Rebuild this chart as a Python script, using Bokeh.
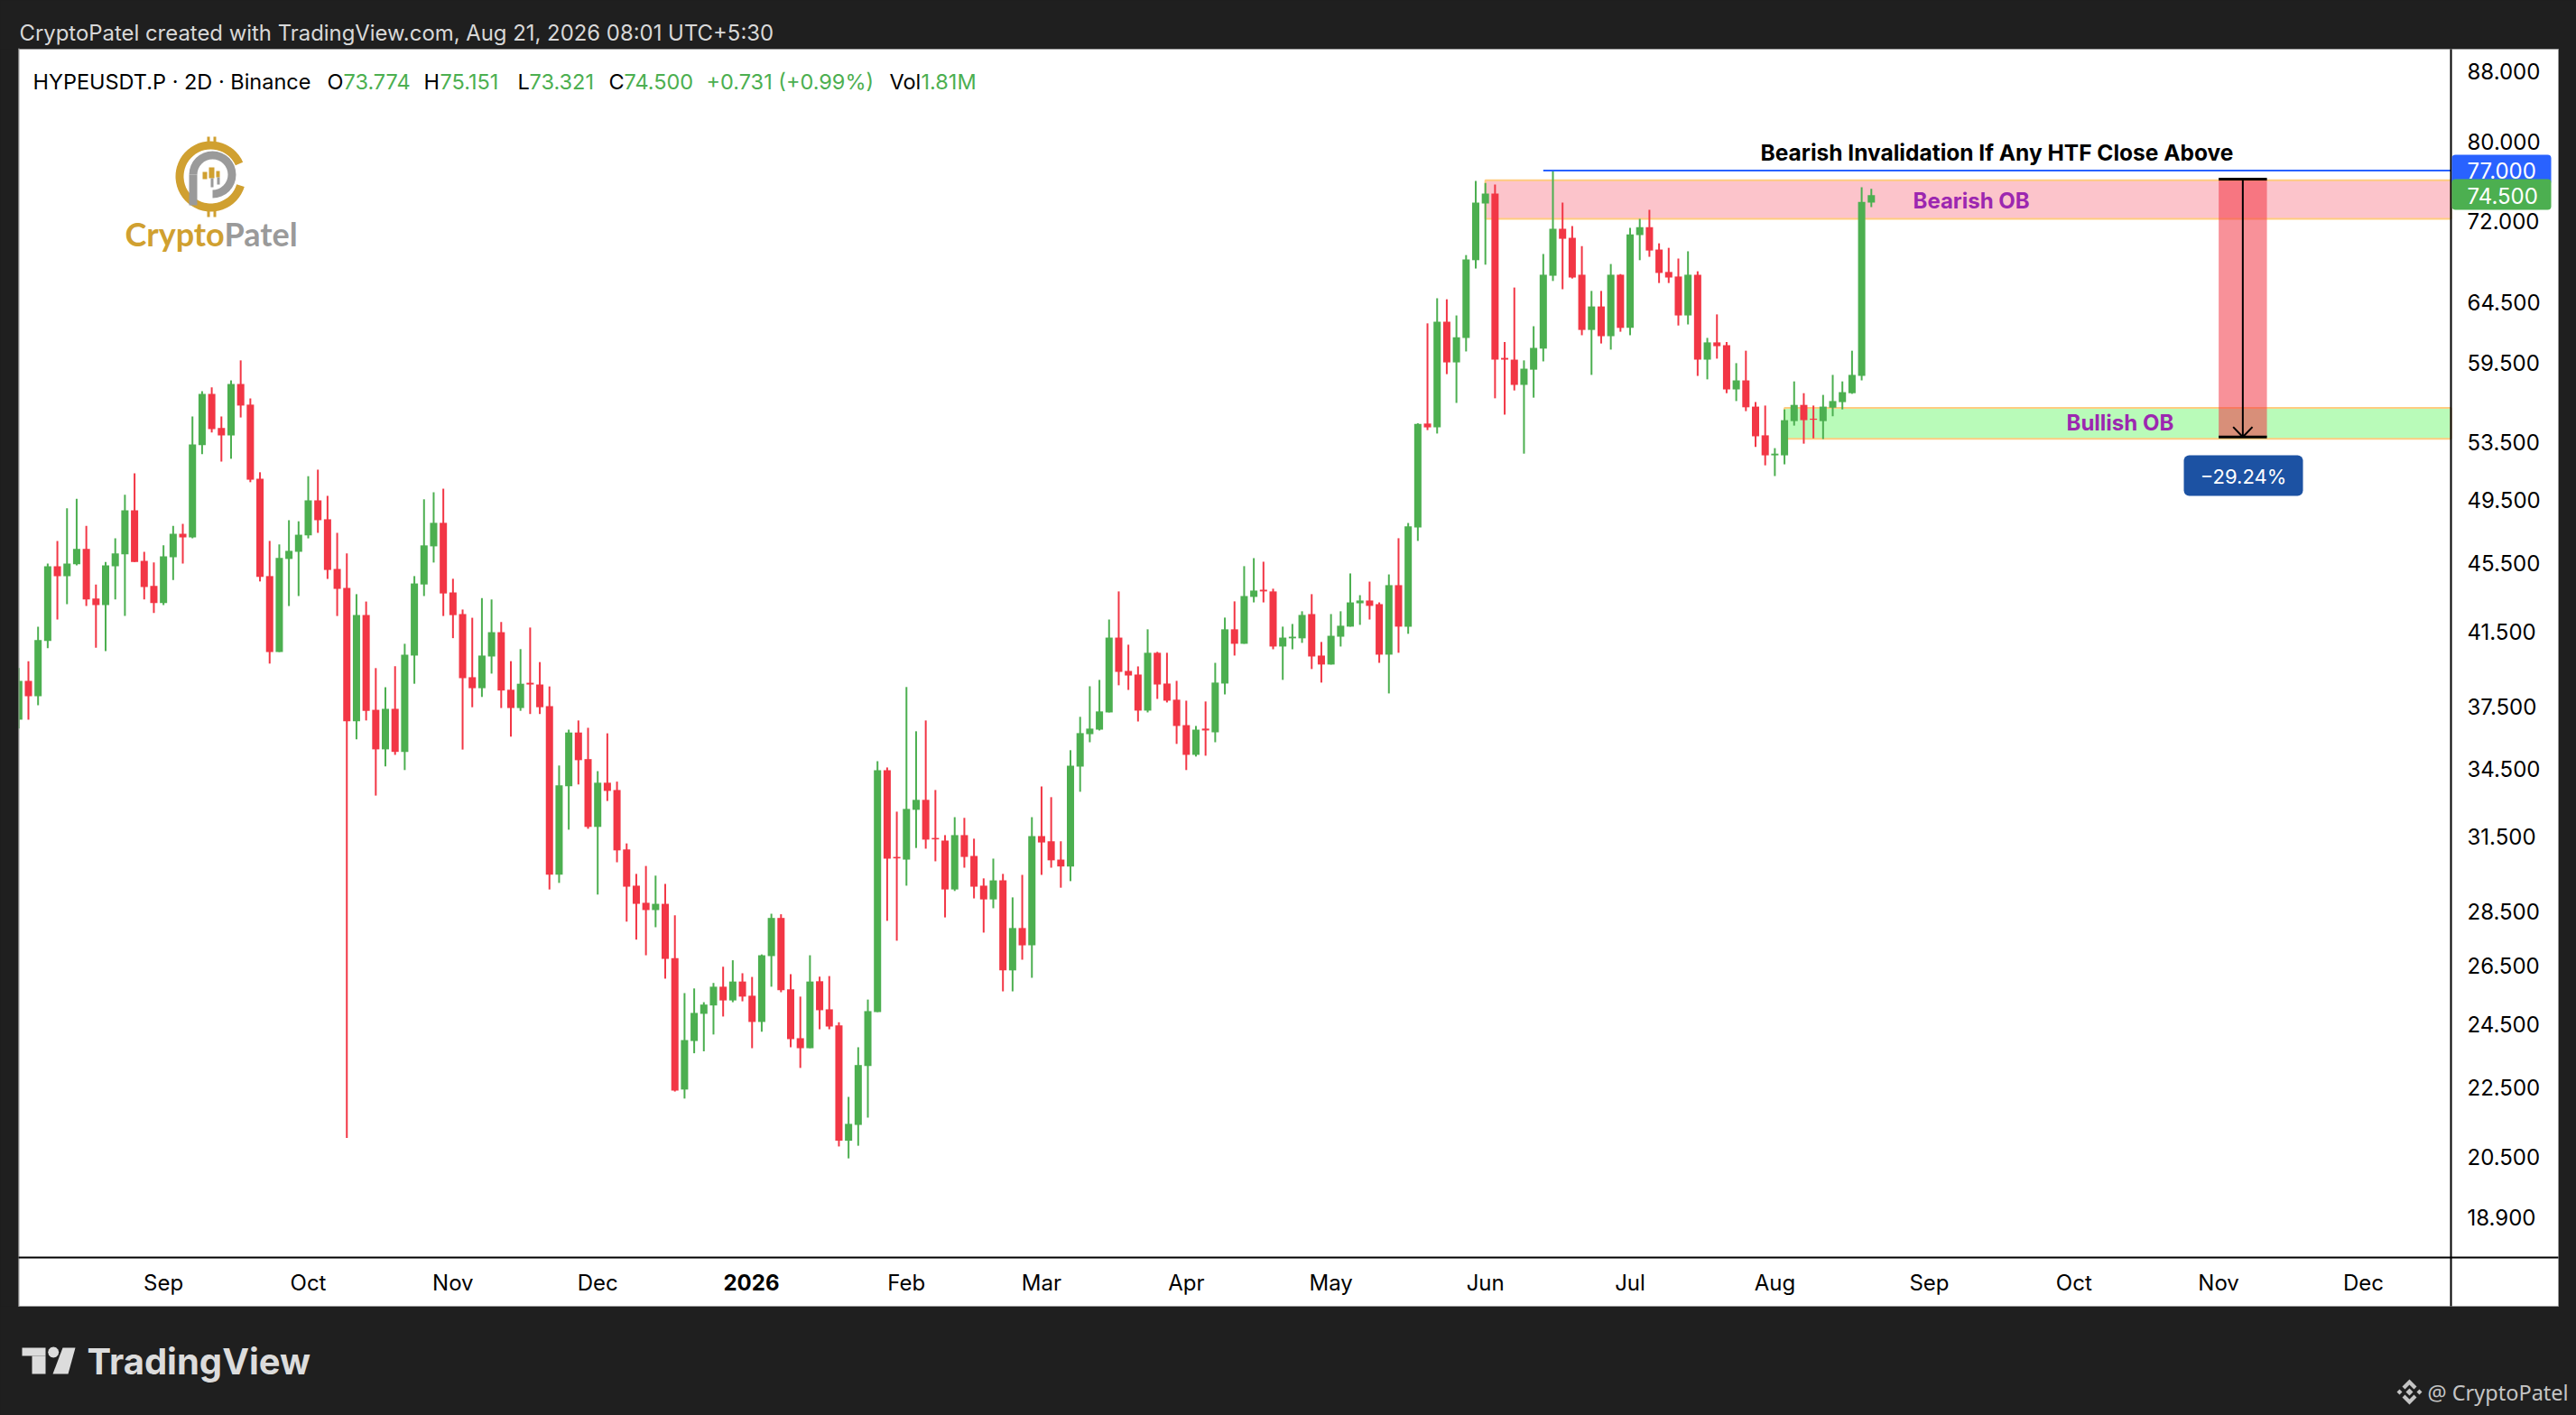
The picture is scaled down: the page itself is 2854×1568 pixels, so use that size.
import math
from bokeh.plotting import figure
from bokeh.models import Label, BoxAnnotation, PolyAnnotation, FixedTicker, PrintfTickFormatter, ColumnDataSource
from bokeh.embed import file_html
from bokeh.resources import INLINE

OPEN = [36.86,38.83,38.04,40.96,45.28,44.69,45.40,46.35,43.36,42.99,45.28,46.01,48.82,45.61,44.10,43.10,45.83,47.30,47.07,53.27,
57.06,54.51,53.97,57.83,56.25,50.93,44.69,40.36,45.73,46.17,47.20,49.47,48.23,45.12,43.98,36.78,42.42,37.35,35.42,37.40,
35.30,40.17,44.19,46.51,48.00,43.72,42.47,39.02,38.45,40.12,41.45,38.37,37.44,38.73,38.64,37.53,29.94,33.71,36.23,34.96,
31.92,33.87,33.54,30.97,29.50,28.83,28.55,28.79,26.77,22.44,23.95,24.84,25.12,25.76,25.29,25.94,25.45,24.57,26.84,28.25,
25.67,24.04,23.72,25.95,24.99,24.46,20.95,21.40,23.16,24.90,34.44,30.66,30.55,32.66,33.10,31.45,31.34,29.35,31.57,30.70,
29.50,28.96,29.71,26.33,27.87,27.23,31.53,31.31,30.55,30.27,34.61,36.15,36.37,37.22,41.15,39.35,39.16,37.31,40.32,38.69,
37.86,36.59,35.16,36.42,36.24,38.69,41.61,40.81,43.46,43.88,43.78,40.66,41.11,41.11,42.47,40.17,39.69,41.20,41.76,43.09,
43.25,43.04,40.22,44.15,41.76,47.70,54.84,54.56,62.87,59.53,61.52,68.28,73.67,74.66,59.89,59.75,57.76,58.95,60.64,66.87,
71.22,70.36,66.96,62.18,64.17,61.66,66.96,62.35,70.62,71.38,69.26,67.21,66.80,63.40,66.96,59.75,61.15,60.92,57.41,58.11,
56.10,53.98,52.55,52.55,55.02,56.23,55.20,55.02,56.02,56.44,57.12,58.46,73.77]
HIGH = [39.50,39.87,41.76,45.45,46.85,48.94,49.58,47.81,44.19,45.55,47.01,49.84,51.30,46.17,45.51,46.57,47.81,47.94,55.36,57.28,
57.56,55.36,58.11,59.69,56.72,51.37,46.85,46.63,48.17,48.10,51.10,51.55,49.77,47.36,46.07,43.62,43.19,39.50,38.50,39.60,
40.81,44.69,49.54,50.01,50.25,44.53,42.73,42.26,43.39,43.31,42.02,39.87,40.52,41.71,39.82,38.54,34.66,36.37,36.82,36.46,
34.40,36.19,33.92,31.22,29.97,30.29,29.90,29.57,28.35,25.54,25.70,25.23,25.89,26.46,26.69,26.23,26.10,26.90,28.41,28.39,
26.20,25.42,26.87,26.11,26.13,24.56,22.22,23.75,25.32,34.86,34.57,32.58,38.51,36.29,36.82,33.54,31.57,32.34,32.31,31.42,
29.79,30.59,29.97,29.04,29.93,32.34,33.70,33.22,31.31,35.38,37.00,38.55,38.88,42.16,43.78,40.76,39.59,41.61,40.37,40.32,
38.83,37.81,36.55,37.77,39.78,42.27,43.20,45.29,45.78,45.56,43.94,41.76,41.91,42.63,43.62,40.91,42.47,42.63,44.85,43.56,
44.36,43.14,44.79,47.02,47.99,54.86,62.73,64.88,64.79,63.40,68.75,75.95,75.74,75.57,61.18,65.82,59.69,62.49,68.85,77.02,
73.77,71.48,69.58,65.52,65.52,67.93,67.02,71.31,72.18,73.05,69.84,69.42,68.43,69.10,67.27,61.52,63.49,61.18,59.47,60.47,
56.44,56.18,53.06,55.89,58.03,57.12,56.18,56.99,58.54,58.03,60.47,75.29,75.15]
LOW = [36.43,36.86,37.58,40.57,42.16,43.04,45.34,42.93,40.60,40.41,43.31,42.36,45.55,43.31,42.53,42.99,44.46,45.45,47.01,52.63,
54.18,52.11,52.31,55.29,50.69,44.37,39.74,40.36,42.93,43.51,47.01,47.36,44.52,42.36,21.03,35.90,36.82,33.29,34.62,35.16,
34.45,38.68,43.51,45.51,42.36,41.12,35.41,37.48,38.00,39.21,37.44,36.03,37.30,37.14,37.14,29.35,29.61,31.80,33.79,31.84,
29.15,33.05,30.44,28.11,27.44,26.87,27.90,26.04,22.38,22.17,23.56,23.62,24.16,24.75,25.23,25.26,23.72,24.25,25.76,25.57,
23.75,23.10,23.72,24.33,24.33,20.79,20.46,20.81,21.61,24.90,28.14,27.40,29.50,31.03,31.00,30.48,28.27,29.29,30.22,29.00,
27.70,28.62,25.60,25.60,26.71,26.07,29.93,30.22,29.42,29.68,33.46,35.76,36.33,37.22,38.60,38.36,36.77,37.22,37.90,37.72,
35.68,34.45,35.08,35.12,35.76,38.13,40.17,40.81,43.14,43.14,40.51,38.88,40.51,40.86,39.45,38.74,39.69,40.66,41.76,41.86,
42.16,39.78,38.18,40.32,41.36,46.85,54.36,54.11,58.60,56.38,60.41,67.52,67.87,56.73,55.50,57.33,52.67,56.78,59.61,66.40,
65.67,66.62,61.74,58.54,61.06,60.56,62.03,61.74,68.28,68.59,66.22,66.22,62.55,62.64,58.46,58.19,59.83,57.12,56.52,55.76,
53.14,51.85,51.11,51.92,54.69,53.38,53.76,53.71,55.38,55.89,57.07,58.11,73.32]
CLOSE = [38.83,38.04,41.01,45.28,44.69,45.45,46.35,43.31,42.99,45.34,46.07,48.82,45.55,44.04,43.10,45.89,47.30,47.07,53.32,57.06,
54.43,53.97,57.83,56.18,50.86,44.64,40.36,45.79,46.23,47.24,49.47,48.17,45.06,43.93,36.78,42.42,37.30,35.42,37.40,35.30,
40.22,44.25,46.57,48.00,43.66,42.41,38.97,38.45,40.17,41.45,38.33,37.44,38.68,38.64,37.48,29.94,33.75,36.23,34.91,31.92,
33.87,33.50,30.93,29.46,28.79,28.55,28.79,26.74,22.41,23.98,24.87,25.15,25.76,25.29,25.94,25.42,24.57,26.87,28.25,25.64,
24.01,23.72,25.94,24.96,24.42,20.95,21.43,23.19,24.93,34.44,30.59,30.60,32.70,33.10,31.38,31.39,29.35,31.57,30.66,29.46,
28.96,29.71,26.33,27.87,27.23,31.53,31.26,30.52,30.27,34.65,36.20,36.42,37.27,41.15,39.30,39.11,37.31,40.32,38.64,37.81,
36.55,35.16,36.37,36.33,38.74,41.61,40.81,43.51,43.83,43.78,40.66,41.15,41.20,42.42,40.12,39.69,41.25,41.81,43.14,43.25,
42.94,40.22,44.15,41.76,47.77,54.81,54.56,62.87,59.53,61.57,68.34,73.77,74.66,59.75,59.75,57.76,59.03,60.70,66.96,71.22,
70.27,66.71,62.18,64.17,61.66,66.96,62.35,70.69,71.38,69.17,67.12,66.71,63.40,66.96,59.75,61.15,60.84,57.41,58.11,56.05,
53.91,52.55,52.67,55.09,56.23,55.09,55.12,56.10,56.52,57.20,58.54,73.84,74.50]
assert len(OPEN)==len(HIGH)==len(LOW)==len(CLOSE)==193
PRICE_TICKS = [88.0,80.0,72.0,64.5,59.5,53.5,49.5,45.5,41.5,37.5,34.5,31.5,28.5,26.5,24.5,22.5,20.5,18.9]
MONTH_TICKS = [15,30,45,60,92,106,121,136,152,167,182,198,213,228,243]
MONTH_LABELS = ["Sep","Oct","Nov","Dec","Feb","Mar","Apr","May","Jun","Jul","Aug","Sep","Oct","Nov","Dec"]
BEAR_OB = (152, 76.0, 72.17)
BULL_OB = (183, 56.0, 53.73)
INVALIDATION = (158, 77.0)
MEASURE = (228, 233, 76.12, 53.86)

GREEN="#4caf50"; RED="#f23645"; DARK="#1f1f1f"; FONT="Inter"
W,H=2854,1568
def fx(px): return (px-20.3)/10.69
def fy(py): return 72*math.exp((244-py)/825.9)

src=ColumnDataSource(dict(x=list(range(len(OPEN))),h=HIGH,l=LOW,t=[max(a,b) for a,b in zip(OPEN,CLOSE)],b=[min(a,b) for a,b in zip(OPEN,CLOSE)],
    c=[GREEN if b>=a else RED for a,b in zip(OPEN,CLOSE)]))

# the frame fills the whole canvas; price and time scales are carried inside it
p=figure(width=W,height=H,x_range=(fx(0),fx(W)),y_range=(fy(H),fy(0)),y_axis_type="log",y_axis_location="right",
         output_backend="svg",toolbar_location=None,min_border=0)
p.border_fill_color=DARK; p.background_fill_color=DARK; p.outline_line_color=None; p.grid.visible=False

def box(l,t,r,b,color,alpha=1.0,line=None,radius=0,level="annotation"):
    p.add_layout(BoxAnnotation(left=l,right=r,top=t,bottom=b,left_units="canvas",right_units="canvas",top_units="canvas",bottom_units="canvas",
        fill_color=color,fill_alpha=alpha,line_color=line,line_alpha=1.0 if line else 0,border_radius=radius,level=level))
def label(px,py,text,color="black",size=24,style="normal",align="left",base="middle",font=FONT):
    p.add_layout(Label(x=px,y=py,x_units="canvas",y_units="canvas",text=text,text_color=color,text_font=font,text_font_size=f"{size}px",text_font_style=style,text_align=align,text_baseline=base))
def poly(pts,color):
    p.add_layout(PolyAnnotation(xs=[a for a,_ in pts],ys=[b for _,b in pts],xs_units="canvas",ys_units="canvas",fill_color=color,fill_alpha=1,line_color=None))

box(20,54,2834,1447,"white",line="#9a9a9a",level="underlay")

# axes
p.yaxis.ticker=FixedTicker(ticks=PRICE_TICKS)
p.yaxis.formatter=PrintfTickFormatter(format="%.3f")
p.yaxis.major_tick_line_color=None; p.yaxis.minor_tick_line_color=None; p.yaxis.axis_line_color=None
p.yaxis.major_tick_out=0; p.yaxis.major_tick_in=0; p.yaxis.minor_tick_out=0
p.yaxis.major_label_text_font=FONT; p.yaxis.major_label_text_font_size="24px"; p.yaxis.major_label_text_color="black"
p.yaxis.major_label_standoff=-121
p.xaxis.ticker=FixedTicker(ticks=MONTH_TICKS)
p.xaxis.major_label_overrides=dict(zip(MONTH_TICKS,MONTH_LABELS))
p.xaxis.major_tick_line_color=None; p.xaxis.minor_tick_line_color=None; p.xaxis.axis_line_color=None
p.xaxis.major_tick_out=0; p.xaxis.major_tick_in=0; p.xaxis.minor_tick_out=0
p.xaxis.major_label_text_font=FONT; p.xaxis.major_label_text_font_size="24px"; p.xaxis.major_label_text_color="black"
p.xaxis.major_label_standoff=-162

# zones
for left,top,bot,fill in (BEAR_OB+("#fcc4cb",),BULL_OB+("#b9fbb9",)):
    p.quad(left=left,right=fx(2715),top=top,bottom=bot,fill_color=fill,line_color="#ffcc80",line_width=2)

# candles
p.segment("x","h","x","l",source=src,line_color="c",line_width=2)
p.vbar(x="x",width=0.75,top="t",bottom="b",source=src,fill_color="c",line_color=None)

# invalidation line
p.segment(INVALIDATION[0],INVALIDATION[1],fx(2715),INVALIDATION[1],line_color="#2962ff",line_width=2)

# measure tool
ml,mr,mt,mb=MEASURE; mc=(ml+mr)/2
p.quad(left=ml,right=mr,top=mt,bottom=mb,fill_color=RED,fill_alpha=0.55,line_color=None)
p.segment([ml,ml],[mt,mb],[mr,mr],[mt,mb],line_color="black",line_width=3)
p.segment(mc,mt,mc,mb,line_color="black",line_width=2)
p.multi_line([[mc-1,mc,mc+1]],[[mb*1.0135,mb,mb*1.0135]],line_color="black",line_width=2)

# left edge of the panel cuts the first candle
box(0,54,20,1447,DARK)
box(20,53,21,1447,"#9a9a9a")

box(2419,504,2551,549,"#1c52a3",radius=6)
label(2485,527,"\u221229.24%","white",22,align="center")

# axis lines
box(20,1392,2834,1394,"black")
box(2714,54,2716,1447,"black")

# last-price and level tags
box(2716,171,2826,204,"#2962ff",radius=4)
box(2716,198,2826,232,GREEN,radius=4)
label(2733,188,"77.000","white")
label(2733,216,"74.500","white")

# year label
label(832,1420,"2026","black",24,"bold",align="center")

# annotations
label(1950,168,"Bearish Invalidation If Any HTF Close Above","black",24.5,"bold")
label(2119,222,"Bearish OB","#9c27b0",24,"bold")
label(2289,468,"Bullish OB","#9c27b0",24,"bold")

# header
label(21,36,"CryptoPatel created with TradingView.com, Aug 21, 2026 08:01 UTC+5:30","#d8d8d8",23.9)
label(36,90,"HYPEUSDT.P \u00b7 2D \u00b7 Binance",size=23.5)
for px,txt,col in ((362,"O","black"),(380,"73.774",GREEN),(469,"H","black"),(487,"75.151",GREEN),(573,"L","black"),(586,"73.321",GREEN),
                   (674,"C","black"),(691,"74.500",GREEN),(782,"+0.731 (+0.99%)",GREEN),(985,"Vol","black"),(1020,"1.81M",GREEN)):
    label(px,90,txt,col,size=23.5)

# CryptoPatel logo
GOLD="#d0a030"; GREY="#9a9a9a"
p.annular_wedge(fx(233),fy(195),inner_radius=30,outer_radius=39,start_angle=math.radians(24),end_angle=math.radians(343),
                inner_radius_units="screen",outer_radius_units="screen",fill_color=GOLD,line_color=None)
p.annular_wedge(fx(235),fy(193),inner_radius=17,outer_radius=26,start_angle=math.radians(-90),end_angle=math.radians(180),
                inner_radius_units="screen",outer_radius_units="screen",fill_color=GREY,line_color=None)
box(209,193,218,227,GREY)
box(229,151,232,157,GOLD); box(236,151,239,157,GOLD)
box(229,233,232,240,GOLD); box(236,233,239,240,GOLD)
box(224,190,229,198,GOLD); box(231,185,237,197,GOLD); box(239,189,243,196,GOLD)
box(233,197,236,207,GREY); box(240,196,243,204,GREY)
label(138,258,"Crypto",GOLD,36,"bold",font="Lato")
label(248,258,"Patel",GREY,36,"bold",font="Lato")

# TradingView logo
LOGO="#dcdcdc"
box(24,1493,50,1502,LOGO); box(35,1502,50,1522,LOGO)
poly([(58.7+6*math.cos(a*math.pi/6),1498+6*math.sin(a*math.pi/6)) for a in range(12)],LOGO)
poly([(69,1493),(83,1493),(75,1522),(58,1522)],LOGO)
label(96,1508,"TradingView",LOGO,40,style="bold")

# CryptoPatel footer
FOOT="#c4c4c4"
poly([(2669,1528),(2677,1536),(2674,1539),(2669,1534),(2664,1539),(2661,1536)],FOOT)
poly([(2669,1556),(2677,1548),(2674,1545),(2669,1550),(2664,1545),(2661,1548)],FOOT)
poly([(2669,1538),(2673,1542),(2669,1546),(2665,1542)],FOOT)
poly([(2658,1539),(2661,1542),(2658,1545),(2655,1542)],FOOT)
poly([(2680,1539),(2683,1542),(2680,1545),(2677,1542)],FOOT)
label(2689,1542,"@ CryptoPatel",FOOT,23.5,font="Noto Sans")

html=file_html(p,INLINE).replace("</head>","<style>html,body{margin:0;background:#1f1f1f;overflow:hidden}</style></head>")
open("out.html","w").write(html)
